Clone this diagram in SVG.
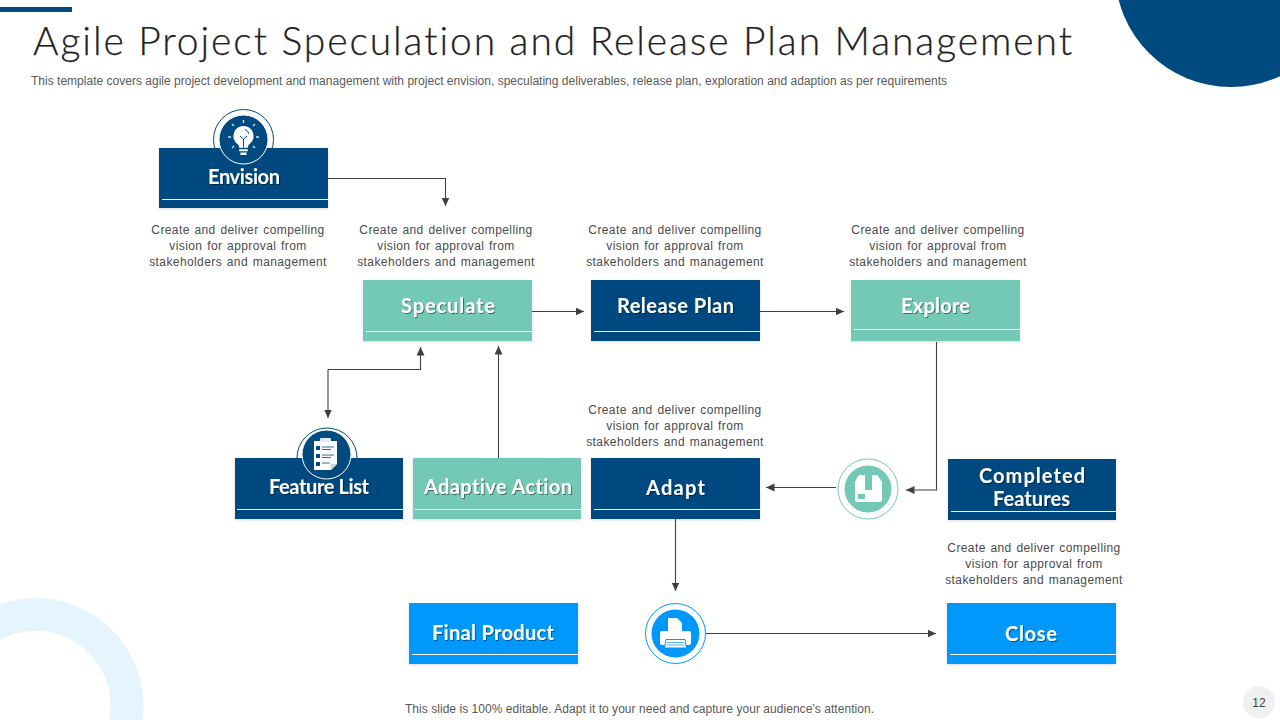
<svg xmlns="http://www.w3.org/2000/svg" width="1280" height="720" viewBox="0 0 1280 720">
<style>
text{font-family:"Liberation Sans",Arial,sans-serif;font-variant-ligatures:none}
.t{font-family:"Lato","Liberation Sans",sans-serif;font-weight:700;font-size:20px;fill:#fff;text-anchor:middle}
.d{font-size:12px;fill:#4a4a4a;text-anchor:middle;letter-spacing:.4px;word-spacing:1px}
.n{fill:#004a80}.g{fill:#73c9b5}.b{fill:#0099fb}
.r{stroke:#fff;stroke-width:1;fill:none}
.c{fill:none;stroke:#404040;stroke-width:1.1;marker-end:url(#a)}
</style>
<defs>
<marker id="a" markerUnits="userSpaceOnUse" markerWidth="10" markerHeight="9" refX="8.5" refY="4" orient="auto"><path d="M0 0L8.500 4L0 8z" fill="#404040"/></marker>
<filter id="s" x="-5%" y="-5%" width="110%" height="115%"><feDropShadow dx="0" dy="1" stdDeviation="1.500" flood-color="#000" flood-opacity=".14"/></filter>
<filter id="ts" x="-5%" y="-10%" width="110%" height="130%"><feDropShadow dx="1" dy="1" stdDeviation=".6" flood-color="#000" flood-opacity=".45"/></filter>
</defs>
<rect width="1280" height="720" fill="#fff"/>
<g id="decor">
<rect x="0" y="7" width="72" height="5" class="n"/>
<circle cx="1231" cy="-29" r="116" class="n"/>
<circle cx="35.500" cy="706" r="91.500" fill="none" stroke="#e6f4fe" stroke-width="33"/>
<circle cx="1259" cy="702" r="16" fill="#f0f0f0"/>
<text x="1259" y="707" font-size="12" fill="#404040" text-anchor="middle">12</text>
</g>
<text id="title" x="33" y="55" font-size="39" fill="#1f1f1f" stroke="#1f1f1f" stroke-width=".25" textLength="1039" lengthAdjust="spacing" style="font-family:'Lato','Liberation Sans',sans-serif;font-weight:300">Agile Project Speculation and Release Plan Management</text>
<text id="subtitle" x="31" y="85" font-size="12" fill="#595959" textLength="916">This template covers agile project development and management with project envision, speculating deliverables, release plan, exploration and adaption as per requirements</text>
<g id="connectors">
<path class="c" d="M328 178.500H445.500V206"/>
<path class="c" d="M532 311.500H584"/>
<path class="c" d="M760 311.500H844"/>
<path class="c" d="M936.500 342V490H906"/>
<path class="c" d="M836 487.500H766"/>
<path class="c" d="M498.500 458V346"/>
<path class="c" d="M328 369.500V418"/>
<path class="c" d="M328 369.500H420.500V347"/>
<path class="c" d="M675.500 519V591"/>
<path class="c" d="M706 633.500H936"/>
</g>
<g id="envision">
<circle cx="243.500" cy="139.500" r="30" fill="#fff" stroke="#004a80"/>
<rect x="159" y="148" width="169" height="60" class="n" filter="url(#s)"/>
<circle cx="243.500" cy="139.500" r="24.500" class="n" stroke="#fff"/>
<path d="M243.500 126a10 10 0 0 0-6 18c1.200 1 1.700 2.200 1.700 3.800h8.600c0-1.600.5-2.800 1.700-3.800a10 10 0 0 0-6-18zM239.200 149.200h8.600v2h-8.600zM240.500 152.400h6v2.600h-6z" fill="#fff"/>
<path d="M243.500 147.500v-8.500l-3.500-3M243.500 139l3.500-3M245 129.500a6.500 6.500 0 0 1 4 4.500" stroke="#004a80" fill="none"/>
<path d="M243.500 120v3M232 124l2 2M255 124l-2 2M228 137h3M256 137h3M232 148l2-2M255 148l-2-2" stroke="#cfe3f0" stroke-width="1.300"/>
<text class="t" x="244" y="184" textLength="72" filter="url(#ts)">Envision</text>
<path class="r" d="M162 199.500H328"/>
</g>
<text class="d"><tspan x="238" y="234">Create and deliver compelling</tspan><tspan x="238" y="250">vision for approval from</tspan><tspan x="238" y="266">stakeholders and management</tspan></text>
<text class="d"><tspan x="446" y="234">Create and deliver compelling</tspan><tspan x="446" y="250">vision for approval from</tspan><tspan x="446" y="266">stakeholders and management</tspan></text>
<text class="d"><tspan x="675" y="234">Create and deliver compelling</tspan><tspan x="675" y="250">vision for approval from</tspan><tspan x="675" y="266">stakeholders and management</tspan></text>
<text class="d"><tspan x="938" y="234">Create and deliver compelling</tspan><tspan x="938" y="250">vision for approval from</tspan><tspan x="938" y="266">stakeholders and management</tspan></text>
<text class="d"><tspan x="675" y="414">Create and deliver compelling</tspan><tspan x="675" y="430">vision for approval from</tspan><tspan x="675" y="446">stakeholders and management</tspan></text>
<text class="d"><tspan x="1034" y="552">Create and deliver compelling</tspan><tspan x="1034" y="568">vision for approval from</tspan><tspan x="1034" y="584">stakeholders and management</tspan></text>
<g id="speculate"><rect x="363" y="280" width="169" height="61" class="g" filter="url(#s)"/><text class="t" x="448" y="313" textLength="94" filter="url(#ts)">Speculate</text><path class="r" d="M366 331.500H532"/></g>
<g id="release-plan"><rect x="591" y="280" width="169" height="61" class="n" filter="url(#s)"/><text class="t" x="675.500" y="313" textLength="117" filter="url(#ts)">Release Plan</text><path class="r" d="M594 331.500H760"/></g>
<g id="explore"><rect x="851" y="280" width="169" height="61" class="g" filter="url(#s)"/><text class="t" x="935.500" y="313" textLength="69" filter="url(#ts)">Explore</text><path class="r" d="M854 329.500H1020"/></g>
<g id="feature-list">
<rect x="235" y="458" width="168" height="61" class="n" filter="url(#s)"/>
<path d="M297 458a30 30 0 1 1 60 0" fill="#fff" stroke="#004a80"/>
<circle cx="326.500" cy="454.500" r="24.500" class="n" stroke="#fff"/>
<path d="M314 441h23v23l-6 6h-17z" fill="#fff"/>
<path d="M331 470v-6h6z" fill="#c9d6e2"/>
<rect x="320" y="438" width="11" height="4" rx="1" fill="#dfe9f1"/>
<path d="M316 446h4v4h-4zM316 454h4v4h-4zM316 462h4v4h-4z" class="n"/>
<path d="M322 447h12M322 449.500h9M322 455h12M322 457.500h9M322 463h8" stroke="#004a80" stroke-width=".8"/>
<text class="t" x="319" y="494" textLength="100" filter="url(#ts)">Feature List</text>
<path class="r" d="M237 509.500H403"/>
</g>
<g id="adaptive-action"><rect x="413" y="458" width="168" height="61" class="g" filter="url(#s)"/><text class="t" x="498" y="494" textLength="148" filter="url(#ts)">Adaptive Action</text><path class="r" d="M415 509.500H581"/></g>
<g id="adapt"><rect x="591" y="458" width="169" height="61" class="n" filter="url(#s)"/><text class="t" x="675.500" y="495" textLength="59" filter="url(#ts)">Adapt</text><path class="r" d="M594 509.500H760"/></g>
<g id="package-icon">
<circle cx="868" cy="489" r="30" fill="#fff" stroke="#73c9b5"/>
<circle cx="868" cy="489" r="23.500" class="g"/>
<path d="M860 475h5v15h7v-15h4a2 2 0 0 1 2 1l4 6v18a2 2 0 0 1-2 2h-23a2 2 0 0 1-2-2v-18l3-6a2 2 0 0 1 2-1z" fill="#fff"/>
<rect x="858" y="494" width="7" height="5" class="g"/>
</g>
<g id="completed-features"><rect x="948" y="459" width="168" height="61" class="n" filter="url(#s)"/><text class="t" x="1032" y="483" textLength="106" filter="url(#ts)">Completed</text><text class="t" x="1031.500" y="506" textLength="77" filter="url(#ts)">Features</text><path class="r" d="M951 511.500H1116"/></g>
<g id="final-product"><rect x="409" y="603" width="169" height="61" class="b" filter="url(#s)"/><text class="t" x="493" y="640" textLength="122" filter="url(#ts)">Final Product</text><path class="r" d="M412 654.500H578"/></g>
<g id="printer-icon">
<circle cx="675.500" cy="633.500" r="30" fill="#fff" stroke="#0099fb"/>
<circle cx="675.500" cy="633.500" r="24" class="b"/>
<path d="M668 618h9l5 5v10h-14z" fill="#fff"/>
<rect x="660" y="631" width="31" height="14" rx="2" fill="#fff"/>
<path d="M666 639.500h19l1.500 8.500h-22z" fill="#fff" stroke="#0099fb"/>
<path d="M667 642.500h17M666.500 645h18" stroke="#0099fb" stroke-width=".7"/>
</g>
<g id="close"><rect x="947" y="603" width="169" height="61" class="b" filter="url(#s)"/><text class="t" x="1031" y="641" textLength="52" filter="url(#ts)">Close</text><path class="r" d="M950 654.500H1116"/></g>
<text id="footer" x="405" y="713" font-size="12" fill="#595959" textLength="469">This slide is 100% editable. Adapt it to your need and capture your audience’s attention.</text>
</svg>
